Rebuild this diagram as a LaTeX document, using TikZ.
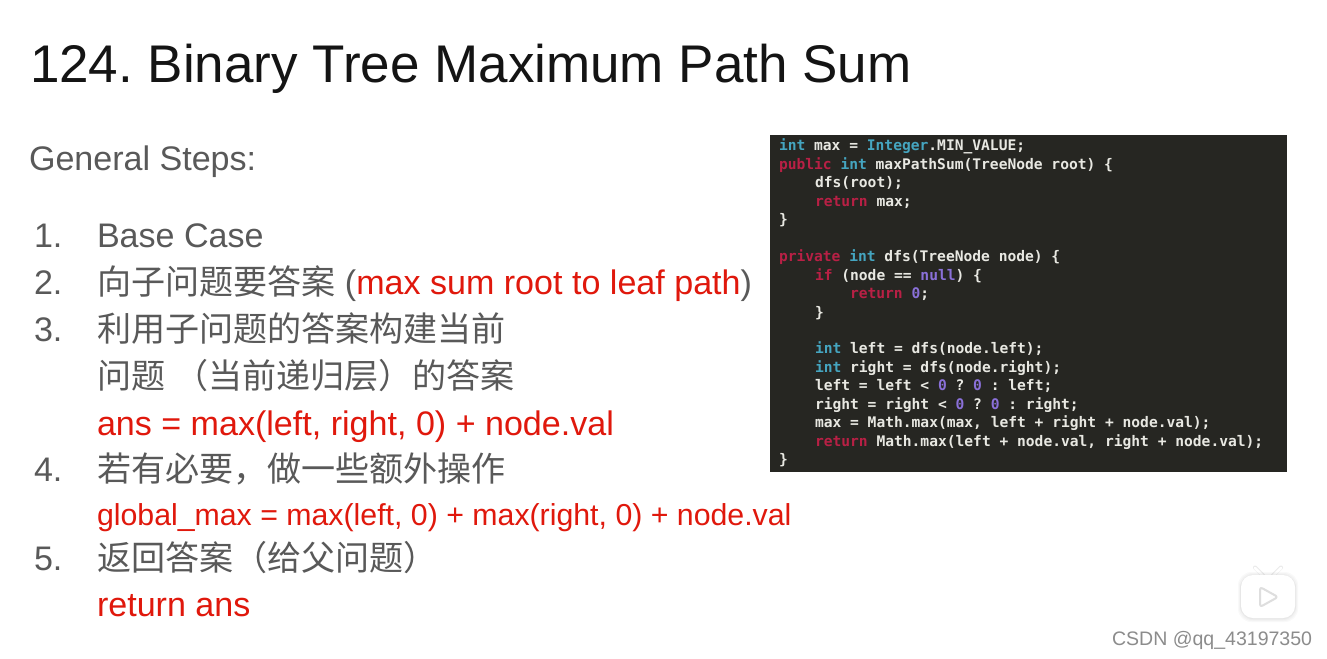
\documentclass[tikz,border=0pt]{standalone}
\usepackage{fontspec}
\setmainfont{Liberation Sans}
\newfontfamily\cjk{Noto Sans CJK SC}
\newfontfamily\codefont{DejaVu Sans Mono}
\frenchspacing
\definecolor{bodygray}{HTML}{595959}
\definecolor{slidered}{HTML}{E0180C}
\definecolor{codebg}{HTML}{262622}
\definecolor{kwred}{HTML}{B82045}
\definecolor{kwblue}{HTML}{45A5C0}
\definecolor{numpurple}{HTML}{8A70D8}
\definecolor{codefg}{HTML}{E8E8E2}
\newcommand{\KW}[1]{\textcolor{kwred}{#1}}
\newcommand{\TY}[1]{\textcolor{kwblue}{#1}}
\newcommand{\NM}[1]{\textcolor{numpurple}{#1}}
\tikzset{x=0.75pt,y=-0.75pt,
  txt/.style={anchor=base west,inner sep=0pt,outer sep=0pt},
  bodytxt/.style={txt,text=bodygray,font=\fontsize{25.55}{25.6}\selectfont},
  redtxt/.style={txt,text=slidered,font=\fontsize{25.55}{25.6}\selectfont},
  codetxt/.style={txt,text=codefg,font=\fontsize{10.95}{11}\codefont\bfseries},
  iconshade/.style={fill=black,fill opacity=0.025,rounded corners=10pt},
  antenna/.style={line width=3pt,line cap=round}}
\begin{document}
\begin{tikzpicture}
\useasboundingbox (0,0) rectangle (1327,658);
\fill[white] (0,0) rectangle (1327,658);
\node[txt,text=black!92,font=\fontsize{39.75}{40}\selectfont] (title) at (30,82) {124. Binary Tree Maximum Path Sum};
\node[bodytxt] (steps) at (29,170) {General Steps:};
\node[bodytxt] (n1) at (34,247) {1.};
\node[bodytxt] (l1) at (97,247) {Base Case};
\node[bodytxt] (n2) at (34,294) {2.};
\node[bodytxt] (l2) at (97,294) {{\cjk 向子问题要答案} (\textcolor{slidered}{max sum root to leaf path})};
\node[bodytxt] (n3) at (34,341) {3.};
\node[bodytxt] (l3) at (97,341) {\cjk 利用子问题的答案构建当前};
\node[bodytxt] (l3b) at (97,388) {\cjk 问题\hspace{1pt} （当前递归层）的答案};
\node[redtxt] (l3c) at (97,435) {ans = max(left, right, 0) + node.val};
\node[bodytxt] (n4) at (34,481) {4.};
\node[bodytxt] (l4) at (97,481) {\cjk 若有必要，做一些额外操作};
\node[redtxt,font=\fontsize{22.72}{23}\selectfont] (l4b) at (97,525) {global\_max = max(left, 0) + max(right, 0) + node.val};
\node[bodytxt] (n5) at (34,570) {5.};
\node[bodytxt] (l5) at (97,570) {\cjk 返回答案（给父问题）};
\node[redtxt] (l5b) at (97,616) {return ans};
% code panel
\fill[codebg] (770,135) rectangle (1287,472);
\node[codetxt] (c1) at (779,150) {\TY{int} max = \TY{Integer}.MIN\_VALUE;};
\node[codetxt] (c2) at (779,169) {\KW{public} \TY{int} maxPathSum(TreeNode root) \{};
\node[codetxt] (c3) at (815,187) {dfs(root);};
\node[codetxt] (c4) at (815,206) {\KW{return} max;};
\node[codetxt] (c5) at (779,224) {\}};
\node[codetxt] (c6) at (779,261) {\KW{private} \TY{int} dfs(TreeNode node) \{};
\node[codetxt] (c7) at (815,280) {\KW{if} (node == \NM{null}) \{};
\node[codetxt] (c8) at (850,298) {\KW{return} \NM{0};};
\node[codetxt] (c9) at (815,317) {\}};
\node[codetxt] (c10) at (815,353) {\TY{int} left = dfs(node.left);};
\node[codetxt] (c11) at (815,372) {\TY{int} right = dfs(node.right);};
\node[codetxt] (c12) at (815,390) {left = left < \NM{0} ? \NM{0} : left;};
\node[codetxt] (c13) at (815,409) {right = right < \NM{0} ? \NM{0} : right;};
\node[codetxt] (c14) at (815,427) {max = Math.max(max, left + right + node.val);};
\node[codetxt] (c15) at (815,446) {\KW{return} Math.max(left + node.val, right + node.val);};
\node[codetxt] (c16) at (779,464) {\}};
% watermark icon
\draw[antenna,black!8] (1255,567.5) -- (1263,575.5) (1281,567.5) -- (1273,575.5);
\draw[antenna,white,line width=2pt] (1255,568) -- (1263,576) (1281,568) -- (1273,576);
\fill[iconshade] (1238,572) rectangle (1298,622);
\fill[iconshade] (1239,573) rectangle (1297,621);
\fill[iconshade] (1240,574) rectangle (1296,620);
\fill[iconshade] (1240,575) rectangle (1296,619);
\fill[white,rounded corners=9pt] (1241,575) rectangle (1295,618);
\draw[black!13,fill=white,line width=1.5pt,line join=round,rounded corners=2pt] (1260,587) -- (1260,607) -- (1278,597) -- cycle;
\node[txt,text=black!45,font=\fontsize{14.65}{15}\selectfont] (mark) at (1112,645) {CSDN @qq\_43197350};
\end{tikzpicture}
\end{document}
